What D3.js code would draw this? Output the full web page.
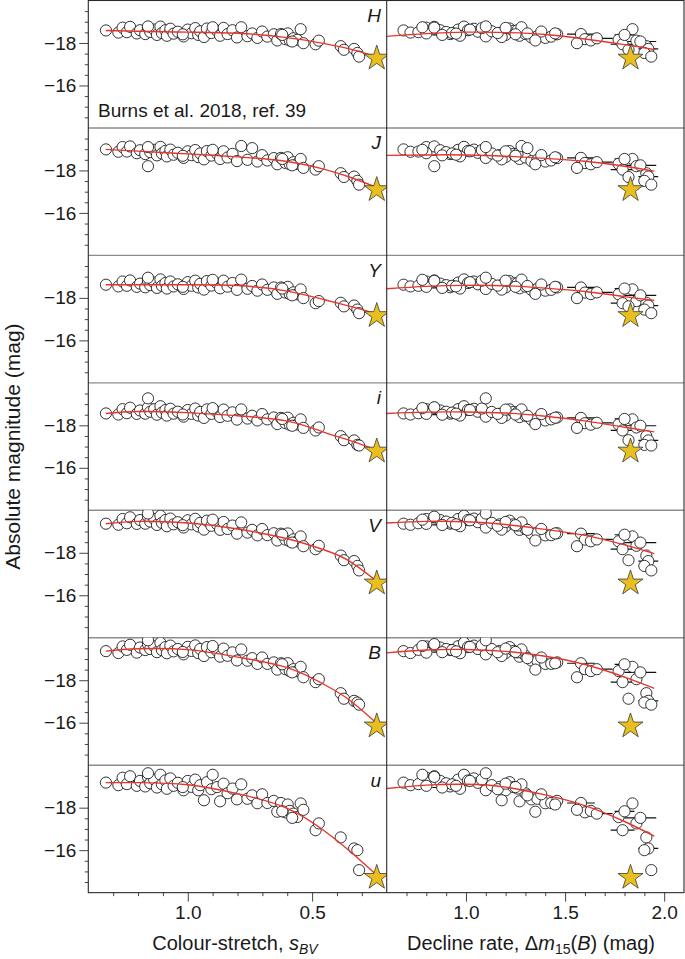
<!DOCTYPE html>
<html>
<head>
<meta charset="utf-8">
<script src="https://cdn.jsdelivr.net/npm/d3@7"></script>
<style>
  body { margin: 0; background: #fff; }
  svg text { font-family: "Liberation Sans", Arial, Helvetica, sans-serif; fill: #1a1a1a; }
</style>
</head>
<body>
<svg id="chart" width="685" height="959"></svg>
<script>
// ---- data ----
const bands = ['H', 'J', 'Y', 'i', 'V', 'B', 'u'];

// colour-stretch and decline rate of each SN (same objects in every band)
const sBV = [1.329,1.279,1.262,1.245,1.232,1.205,1.192,1.171,1.160,1.151,
  1.135,1.124,1.110,1.104,1.090,1.084,1.070,1.057,1.040,1.017,
  1.000,0.985,0.970,0.958,0.950,0.935,0.923,0.905,0.882,0.870,
  0.856,0.840,0.820,0.802,0.785,0.760,0.741,0.720,0.701,0.680,
  0.654,0.640,0.625,0.607,0.598,0.590,0.575,0.560,0.546,0.535,
  0.486,0.473,0.385,0.372,0.331,0.318,0.311,0.900,1.020,0.620,
  0.580,1.160];
const dm15 = [0.685,0.72,0.80,0.76,0.84,0.80,0.87,0.92,0.84,0.90,
  0.96,0.88,0.99,0.93,1.01,0.97,1.04,0.95,1.06,1.10,
  1.02,1.17,1.08,1.20,1.13,1.18,1.22,1.16,1.24,1.27,
  1.20,1.30,1.26,1.33,1.28,1.36,1.31,1.40,1.38,1.43,
  1.46,1.35,1.58,1.60,1.45,1.63,1.66,1.77,1.84,1.56,
  1.79,1.86,1.91,1.82,1.92,1.90,1.935,0.78,1.25,1.80,
  1.88,1.10];
const dm15Err = [0,0,0,0,0,0,0,0,0,0,
  0,0.05,0,0,0.04,0,0,0,0,0,
  0,0.06,0,0.05,0,0,0,0,0,0,
  0,0,0,0.06,0,0,0,0.05,0,0,
  0,0,0.07,0,0,0,0.08,0,0,0,
  0.06,0,0,0,0.05,0,0,0,0,0.05,
  0.08,0];

// absolute magnitudes per band
const magH = [-18.59,-18.49,-18.72,-18.51,-18.76,-18.45,-18.60,-18.42,-18.72,-18.52,
  -18.63,-18.38,-18.77,-18.47,-18.60,-18.34,-18.67,-18.44,-18.53,-18.31,
  -18.63,-18.46,-18.70,-18.38,-18.55,-18.28,-18.68,-18.47,-18.57,-18.34,
  -18.71,-18.42,-18.60,-18.26,-18.74,-18.32,-18.45,-18.24,-18.54,-18.30,
  -18.41,-18.12,-18.42,-18.18,-18.45,-18.12,-18.22,-18.15,-18.65,-17.99,
  -17.94,-18.11,-17.85,-17.68,-17.72,-17.53,-17.36,-18.74,-18.41,-18.38,
  -18.07,-18.78];
const magJ = [-18.99,-18.88,-19.10,-18.89,-19.13,-18.81,-18.95,-18.77,-18.20,-18.86,
  -18.97,-18.71,-19.11,-18.80,-18.92,-18.66,-18.98,-18.74,-18.83,-18.59,
  -18.90,-18.72,-18.96,-18.63,-18.80,-18.52,-18.91,-18.70,-18.78,-18.54,
  -18.90,-18.61,-18.78,-18.44,-19.15,-18.50,-19.05,-18.42,-18.72,-18.47,
  -18.58,-18.29,-18.59,-18.35,-18.62,-18.29,-18.39,-18.31,-18.54,-18.12,
  -18.04,-18.20,-17.87,-17.69,-17.71,-17.51,-17.33,-18.97,-18.69,-18.54,
  -18.24,-19.10];
const magY = [-18.62,-18.54,-18.77,-18.57,-18.82,-18.52,-18.67,-18.50,-18.80,-18.60,
  -18.72,-18.47,-18.87,-18.57,-18.70,-18.44,-18.77,-18.54,-18.64,-18.42,
  -18.74,-18.57,-18.81,-18.49,-18.66,-18.39,-18.79,-18.58,-18.68,-18.45,
  -18.81,-18.53,-18.70,-18.38,-18.86,-18.43,-18.56,-18.34,-18.63,-18.38,
  -18.49,-18.19,-18.49,-18.25,-18.52,-18.18,-18.26,-18.17,-18.40,-17.99,
  -17.75,-17.85,-17.77,-17.60,-17.64,-17.45,-17.28,-18.85,-18.52,-18.44,
  -18.12,-18.95];
const magI = [-18.56,-18.51,-18.76,-18.57,-18.83,-18.54,-18.70,-18.55,-18.85,-18.64,
  -18.76,-18.50,-18.90,-18.60,-18.72,-18.46,-18.78,-18.55,-18.64,-18.41,
  -18.72,-18.54,-18.79,-18.46,-18.63,-18.35,-18.75,-18.54,-18.63,-18.39,
  -18.74,-18.45,-18.61,-18.27,-18.75,-18.32,-18.45,-18.23,-18.53,-18.28,
  -18.37,-18.06,-18.35,-18.10,-18.36,-18.03,-18.12,-18.04,-18.28,-17.88,
  -17.76,-17.90,-17.49,-17.30,-17.29,-17.08,-17.05,-18.81,-18.51,-18.30,
  -17.98,-19.27];
const magV = [-19.37,-19.32,-19.59,-19.39,-19.67,-19.36,-19.54,-19.37,-19.70,-19.47,
  -19.59,-19.31,-19.74,-19.41,-19.54,-19.25,-19.61,-19.34,-19.44,-19.19,
  -19.53,-19.34,-19.60,-19.24,-19.41,-19.09,-19.51,-19.27,-19.34,-19.08,
  -19.45,-19.12,-19.28,-18.90,-19.43,-18.95,-19.08,-18.82,-19.12,-18.83,
  -18.92,-18.58,-18.90,-18.62,-18.91,-18.54,-18.63,-18.54,-18.77,-18.31,
  -18.17,-18.33,-17.87,-17.65,-17.61,-17.38,-17.17,-19.56,-19.30,-18.85,
  -18.48,-19.85];
const magB = [-19.37,-19.28,-19.59,-19.43,-19.67,-19.30,-19.54,-19.42,-19.70,-19.47,
  -19.60,-19.32,-19.76,-19.42,-19.56,-19.27,-19.63,-19.36,-19.47,-19.22,
  -19.57,-19.38,-19.64,-19.28,-19.47,-19.14,-19.56,-19.32,-19.38,-19.11,
  -19.49,-19.15,-19.31,-18.93,-19.45,-18.92,-19.04,-18.77,-19.07,-18.77,
  -18.84,-18.50,-18.80,-18.52,-18.80,-18.43,-18.52,-18.43,-18.63,-18.14,
  -17.91,-18.05,-17.39,-17.13,-17.03,-16.95,-16.85,-19.61,-19.33,-18.75,
  -18.37,-19.88];
const magU = [-19.18,-19.06,-19.41,-19.11,-19.48,-19.03,-19.26,-19.00,-19.45,-19.15,
  -19.32,-18.95,-19.55,-19.10,-19.28,-18.89,-19.38,-19.03,-19.17,-18.82,
  -19.26,-18.98,-19.32,-18.82,-19.06,-18.35,-19.20,-18.87,-18.97,-18.30,
  -19.13,-18.68,-18.90,-18.39,-19.10,-18.42,-18.58,-18.21,-18.63,-18.22,
  -18.32,-17.81,-18.22,-17.78,-18.15,-17.85,-17.72,-17.56,-18.20,-17.90,
  -16.94,-17.26,-16.60,null,-16.08,-16.00,-15.06,-19.55,-18.97,-17.83,
  -17.52,-19.62];

// the new object (gold star)
const starS = 0.24;
const starDm15 = 1.83;
const starMag = [-17.28, -17.09, -17.16, -16.78, -16.57, -15.84, -14.71];

// fitted relations (red lines), sampled off the figure
const fitKnotsS = [1.33, 1.2, 1.0, 0.8, 0.6, 0.45, 0.35, 0.24];
const fitLeftH = [-18.59,-18.55,-18.51,-18.46,-18.25,-17.97,-17.72,-17.35];
const fitLeftJ = [-18.99,-18.91,-18.78,-18.64,-18.42,-18.05,-17.69,-17.20];
const fitLeftY = [-18.62,-18.62,-18.62,-18.58,-18.32,-17.91,-17.61,-17.25];
const fitLeftI = [-18.56,-18.65,-18.60,-18.45,-18.20,-17.67,-17.29,-16.84];
const fitLeftV = [-19.37,-19.48,-19.40,-19.12,-18.66,-18.13,-17.61,-16.66];
const fitLeftB = [-19.37,-19.48,-19.44,-19.09,-18.59,-17.79,-17.07,-15.97];
const fitLeftU = [-19.18,-19.18,-19.08,-18.66,-17.97,-16.90,-15.97,-14.82];

const fitKnotsDm = [0.6, 0.8, 1.0, 1.2, 1.4, 1.6, 1.8, 1.95];
const fitRightH = [-18.31,-18.44,-18.51,-18.49,-18.40,-18.19,-17.92,-17.69];
const fitRightJ = [-18.71,-18.73,-18.73,-18.67,-18.57,-18.43,-18.20,-17.97];
const fitRightY = [-18.43,-18.54,-18.59,-18.57,-18.46,-18.30,-18.06,-17.88];
const fitRightI = [-18.56,-18.62,-18.63,-18.58,-18.43,-18.21,-17.91,-17.69];
const fitRightV = [-19.40,-19.48,-19.46,-19.33,-19.10,-18.82,-18.37,-17.96];
const fitRightB = [-19.29,-19.42,-19.45,-19.36,-19.13,-18.74,-18.15,-17.62];
const fitRightU = [-18.90,-19.06,-19.10,-18.97,-18.60,-18.10,-17.35,-16.66];

// axis ticks
const yMajor = [-18, -16];
const yMinor = [-19.5, -19, -18.5, -17.5, -17, -16.5, -15.5, -15, -14.5];
const sMajor = [1.0, 0.5];
const sMinor = [1.3, 1.2, 1.1, 0.9, 0.8, 0.7, 0.6, 0.4, 0.3];
const dmMajor = [1.0, 1.5, 2.0];
const dmMinor = [0.7, 0.8, 0.9, 1.1, 1.2, 1.3, 1.4, 1.6, 1.7, 1.8, 1.9];

const mags = [magH, magJ, magY, magI, magV, magB, magU];
const fitLeft = [fitLeftH, fitLeftJ, fitLeftY, fitLeftI, fitLeftV, fitLeftB, fitLeftU];
const fitRight = [fitRightH, fitRightJ, fitRightY, fitRightI, fitRightV, fitRightB, fitRightU];

// ---- layout ----
const svg = d3.select('#chart');
const xL0 = 88.3, xMid = 386.7, xR1 = 684;
const top0 = 0.5, rowH = 127.45;
const fontSize = 19;
const red = '#e8352b';

const xLeft = d3.scaleLinear().domain([1.4, 0.2]).range([xL0, xMid]);
const xRight = d3.scaleLinear().domain([0.6, 2.1]).range([xMid, xR1]);

const defs = svg.append('defs');
const star = d3.symbol().type(d3.symbolStar).size(195);

bands.forEach((band, r) => {
  const top = top0 + r * rowH;
  const y = d3.scaleLinear().domain([-20, -14]).range([top, top + rowH]);

  defs.append('clipPath').attr('id', 'clipL' + r)
    .append('rect').attr('x', xL0).attr('y', top).attr('width', xMid - xL0).attr('height', rowH);
  defs.append('clipPath').attr('id', 'clipR' + r)
    .append('rect').attr('x', xMid).attr('y', top).attr('width', xR1 - xMid).attr('height', rowH);

  const pts = sBV.map((s, i) => ({ s: s, dm: dm15[i], err: dm15Err[i], m: mags[r][i] }))
    .filter(d => d.m !== null);

  // left: colour-stretch
  const gL = svg.append('g').attr('clip-path', `url(#clipL${r})`);
  gL.selectAll('circle').data(pts).enter().append('circle')
    .attr('cx', d => xLeft(d.s)).attr('cy', d => y(d.m)).attr('r', 5.6)
    .attr('fill', '#fff').attr('stroke', '#111').attr('stroke-width', 0.85);
  gL.append('path')
    .datum(fitKnotsS.map((s, i) => [s, fitLeft[r][i]]))
    .attr('fill', 'none').attr('stroke', red).attr('stroke-width', 1.4)
    .attr('d', d3.line().x(d => xLeft(d[0])).y(d => y(d[1])).curve(d3.curveNatural));
  gL.append('path').attr('d', star)
    .attr('transform', `translate(${xLeft(starS)},${y(starMag[r])})`)
    .attr('fill', '#e9bf1f').attr('stroke', '#3a3a3a').attr('stroke-width', 0.8);

  // right: decline rate
  const gR = svg.append('g').attr('clip-path', `url(#clipR${r})`);
  gR.selectAll('line.err').data(pts.filter(d => d.err > 0)).enter().append('line')
    .attr('class', 'err')
    .attr('x1', d => xRight(d.dm - d.err)).attr('x2', d => xRight(d.dm + d.err))
    .attr('y1', d => y(d.m)).attr('y2', d => y(d.m))
    .attr('stroke', '#111').attr('stroke-width', 1.2);
  gR.selectAll('circle').data(pts).enter().append('circle')
    .attr('cx', d => xRight(d.dm)).attr('cy', d => y(d.m)).attr('r', 5.6)
    .attr('fill', '#fff').attr('stroke', '#111').attr('stroke-width', 0.85);
  gR.append('path')
    .datum(fitKnotsDm.map((dm, i) => [dm, fitRight[r][i]]))
    .attr('fill', 'none').attr('stroke', red).attr('stroke-width', 1.4)
    .attr('d', d3.line().x(d => xRight(d[0])).y(d => y(d[1])).curve(d3.curveNatural));
  gR.append('path').attr('d', star)
    .attr('transform', `translate(${xRight(starDm15)},${y(starMag[r])})`)
    .attr('fill', '#e9bf1f').attr('stroke', '#3a3a3a').attr('stroke-width', 0.8);

  // y axis (left column only)
  const ax = svg.append('g').attr('transform', `translate(${xL0},0)`);
  ax.call(d3.axisLeft(y).tickValues(yMajor).tickSize(9).tickPadding(3)
    .tickFormat(d => '\u2212' + Math.abs(d)));
  ax.call(g => g.select('.domain').remove());
  ax.selectAll('text').style('font-size', fontSize + 'px').attr('fill', '#1a1a1a');
  const axm = svg.append('g').attr('transform', `translate(${xL0},0)`);
  axm.call(d3.axisLeft(y).tickValues(yMinor).tickSize(3.5).tickFormat(''));
  axm.call(g => g.select('.domain').remove());
  svg.selectAll('.tick line').attr('stroke', '#444');

  // band label
  svg.append('text').attr('x', 381).attr('y', top + 21.5)
    .attr('text-anchor', 'end').style('font-size', fontSize + 'px')
    .style('font-style', 'italic').text(band);

  // separator under the row
  if (r < bands.length - 1) {
    svg.append('line').attr('x1', xL0).attr('x2', xR1)
      .attr('y1', top + rowH).attr('y2', top + rowH)
      .attr('stroke', '#8c8c8c').attr('stroke-width', 1.4);
  }
});

const bottom = top0 + bands.length * rowH;

// bottom x axes
function xAxis(scale, major, minor) {
  const g = svg.append('g').attr('transform', `translate(0,${bottom})`);
  g.call(d3.axisBottom(scale).tickValues(major).tickSize(9).tickPadding(4).tickFormat(d3.format('.1f')));
  g.select('.domain').remove();
  g.selectAll('text').style('font-size', fontSize + 'px').attr('fill', '#1a1a1a');
  const gm = svg.append('g').attr('transform', `translate(0,${bottom})`);
  gm.call(d3.axisBottom(scale).tickValues(minor).tickSize(3.5).tickFormat(''));
  gm.select('.domain').remove();
  svg.selectAll('.tick line').attr('stroke', '#444');
}
xAxis(xLeft, sMajor, sMinor);
xAxis(xRight, dmMajor, dmMinor);

// frame and centre divider
svg.append('rect').attr('x', xL0).attr('y', top0).attr('width', xR1 - xL0).attr('height', bottom - top0)
  .attr('fill', 'none').attr('stroke', '#2a2a2a').attr('stroke-width', 1.1);
svg.append('line').attr('x1', xMid).attr('x2', xMid).attr('y1', top0).attr('y2', bottom)
  .attr('stroke', '#2a2a2a').attr('stroke-width', 1.1);

// reference note in the top panel
svg.append('text').attr('x', 98).attr('y', 116.7).style('font-size', fontSize + 'px')
  .text('Burns et al. 2018, ref. 39');

// axis titles
const titleSize = 20;
const tL = svg.append('text').attr('x', 235).attr('y', 950)
  .attr('text-anchor', 'middle').style('font-size', titleSize + 'px');
tL.append('tspan').text('Colour-stretch, ');
tL.append('tspan').style('font-style', 'italic').text('s');
tL.append('tspan').style('font-style', 'italic').style('font-size', '14px').attr('dy', 4).text('BV');

const tR = svg.append('text').attr('x', 531).attr('y', 950)
  .attr('text-anchor', 'middle').style('font-size', titleSize + 'px');
tR.append('tspan').text('Decline rate, \u0394');
tR.append('tspan').style('font-style', 'italic').text('m');
tR.append('tspan').style('font-size', '14px').attr('dy', 4).text('15');
tR.append('tspan').attr('dy', -4).text('(');
tR.append('tspan').style('font-style', 'italic').text('B');
tR.append('tspan').text(') (mag)');

svg.append('text')
  .attr('transform', `translate(20,${(top0 + bottom) / 2}) rotate(-90)`)
  .attr('text-anchor', 'middle').style('font-size', '21px')
  .text('Absolute magnitude (mag)');
</script>
</body>
</html>
